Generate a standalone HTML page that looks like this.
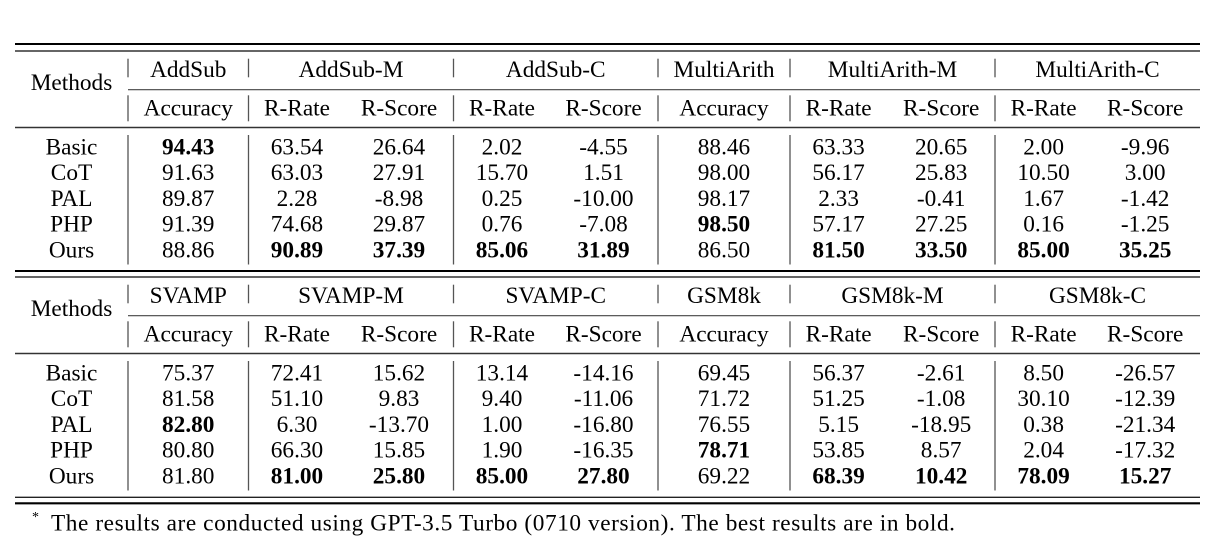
<!DOCTYPE html>
<html>
<head>
<meta charset="utf-8">
<style>
  html, body { margin:0; padding:0; background:#fff; }
  body { width:1211px; height:543px; overflow:hidden; }
  svg { display:block; }
  text { font-family: "Liberation Serif", "Times New Roman", serif; font-size:23.3px; fill:#000; }
  .b { font-weight:bold; }
</style>
</head>
<body>
<svg width="1211" height="543" viewBox="0 0 1211 543" xmlns="http://www.w3.org/2000/svg">
  <!-- ===== TOP TABLE ===== -->
  <line x1="15" y1="44" x2="1200" y2="44" stroke="#000" stroke-width="2"/>
  <line x1="15" y1="51" x2="1200" y2="51" stroke="#333" stroke-width="1.4"/>
  <line x1="128" y1="89.7" x2="1200" y2="89.7" stroke="#444" stroke-width="1.2"/>
  <line x1="15" y1="127.5" x2="1200" y2="127.5" stroke="#333" stroke-width="1.6"/>

  <g stroke="#555" stroke-width="1.3">
    <line x1="128" y1="58.7" x2="128" y2="77.3"/>
    <line x1="248.5" y1="58.7" x2="248.5" y2="77.3"/>
    <line x1="453.5" y1="58.7" x2="453.5" y2="77.3"/>
    <line x1="658" y1="58.7" x2="658" y2="77.3"/>
    <line x1="790" y1="58.7" x2="790" y2="77.3"/>
    <line x1="995" y1="58.7" x2="995" y2="77.3"/>

    <line x1="128" y1="95.3" x2="128" y2="121.3"/>
    <line x1="248.5" y1="95.3" x2="248.5" y2="121.3"/>
    <line x1="453.5" y1="95.3" x2="453.5" y2="121.3"/>
    <line x1="658" y1="95.3" x2="658" y2="121.3"/>
    <line x1="790" y1="95.3" x2="790" y2="121.3"/>
    <line x1="995" y1="95.3" x2="995" y2="121.3"/>

    <line x1="128" y1="135" x2="128" y2="264.5"/>
    <line x1="248.5" y1="135" x2="248.5" y2="264.5"/>
    <line x1="453.5" y1="135" x2="453.5" y2="264.5"/>
    <line x1="658" y1="135" x2="658" y2="264.5"/>
    <line x1="790" y1="135" x2="790" y2="264.5"/>
    <line x1="995" y1="135" x2="995" y2="264.5"/>
  </g>

  <g text-anchor="middle">
    <text x="71.5" y="90">Methods</text>
    <text x="188.25" y="77">AddSub</text>
    <text x="351" y="77">AddSub-M</text>
    <text x="555.75" y="77">AddSub-C</text>
    <text x="724" y="77">MultiArith</text>
    <text x="892.5" y="77">MultiArith-M</text>
    <text x="1097.5" y="77">MultiArith-C</text>

    <text x="188.25" y="115.5">Accuracy</text>
    <text x="297" y="115.5">R-Rate</text>
    <text x="399" y="115.5">R-Score</text>
    <text x="502" y="115.5">R-Rate</text>
    <text x="603.5" y="115.5">R-Score</text>
    <text x="724" y="115.5">Accuracy</text>
    <text x="838.6" y="115.5">R-Rate</text>
    <text x="941.2" y="115.5">R-Score</text>
    <text x="1043.6" y="115.5">R-Rate</text>
    <text x="1145.2" y="115.5">R-Score</text>

    <text x="71.5" y="154.3">Basic</text>
    <text x="188.25" y="154.3" class="b">94.43</text>
    <text x="297" y="154.3">63.54</text>
    <text x="399" y="154.3">26.64</text>
    <text x="502" y="154.3">2.02</text>
    <text x="603.5" y="154.3">-4.55</text>
    <text x="724" y="154.3">88.46</text>
    <text x="838.6" y="154.3">63.33</text>
    <text x="941.2" y="154.3">20.65</text>
    <text x="1043.6" y="154.3">2.00</text>
    <text x="1145.2" y="154.3">-9.96</text>

    <text x="71.5" y="180.1">CoT</text>
    <text x="188.25" y="180.1">91.63</text>
    <text x="297" y="180.1">63.03</text>
    <text x="399" y="180.1">27.91</text>
    <text x="502" y="180.1">15.70</text>
    <text x="603.5" y="180.1">1.51</text>
    <text x="724" y="180.1">98.00</text>
    <text x="838.6" y="180.1">56.17</text>
    <text x="941.2" y="180.1">25.83</text>
    <text x="1043.6" y="180.1">10.50</text>
    <text x="1145.2" y="180.1">3.00</text>

    <text x="71.5" y="205.9">PAL</text>
    <text x="188.25" y="205.9">89.87</text>
    <text x="297" y="205.9">2.28</text>
    <text x="399" y="205.9">-8.98</text>
    <text x="502" y="205.9">0.25</text>
    <text x="603.5" y="205.9">-10.00</text>
    <text x="724" y="205.9">98.17</text>
    <text x="838.6" y="205.9">2.33</text>
    <text x="941.2" y="205.9">-0.41</text>
    <text x="1043.6" y="205.9">1.67</text>
    <text x="1145.2" y="205.9">-1.42</text>

    <text x="71.5" y="231.7">PHP</text>
    <text x="188.25" y="231.7">91.39</text>
    <text x="297" y="231.7">74.68</text>
    <text x="399" y="231.7">29.87</text>
    <text x="502" y="231.7">0.76</text>
    <text x="603.5" y="231.7">-7.08</text>
    <text x="724" y="231.7" class="b">98.50</text>
    <text x="838.6" y="231.7">57.17</text>
    <text x="941.2" y="231.7">27.25</text>
    <text x="1043.6" y="231.7">0.16</text>
    <text x="1145.2" y="231.7">-1.25</text>

    <text x="71.5" y="257.5">Ours</text>
    <text x="188.25" y="257.5">88.86</text>
    <text x="297" y="257.5" class="b">90.89</text>
    <text x="399" y="257.5" class="b">37.39</text>
    <text x="502" y="257.5" class="b">85.06</text>
    <text x="603.5" y="257.5" class="b">31.89</text>
    <text x="724" y="257.5">86.50</text>
    <text x="838.6" y="257.5" class="b">81.50</text>
    <text x="941.2" y="257.5" class="b">33.50</text>
    <text x="1043.6" y="257.5" class="b">85.00</text>
    <text x="1145.2" y="257.5" class="b">35.25</text>
  </g>

  <!-- ===== BOTTOM TABLE ===== -->
  <line x1="15" y1="271" x2="1200" y2="271" stroke="#000" stroke-width="2"/>
  <line x1="15" y1="277" x2="1200" y2="277" stroke="#333" stroke-width="1.4"/>
  <line x1="128" y1="315.7" x2="1200" y2="315.7" stroke="#444" stroke-width="1.2"/>
  <line x1="15" y1="353.5" x2="1200" y2="353.5" stroke="#333" stroke-width="1.6"/>

  <g stroke="#555" stroke-width="1.3">
    <line x1="128" y1="284.7" x2="128" y2="303.3"/>
    <line x1="248.5" y1="284.7" x2="248.5" y2="303.3"/>
    <line x1="453.5" y1="284.7" x2="453.5" y2="303.3"/>
    <line x1="658" y1="284.7" x2="658" y2="303.3"/>
    <line x1="790" y1="284.7" x2="790" y2="303.3"/>
    <line x1="995" y1="284.7" x2="995" y2="303.3"/>

    <line x1="128" y1="321.3" x2="128" y2="347.3"/>
    <line x1="248.5" y1="321.3" x2="248.5" y2="347.3"/>
    <line x1="453.5" y1="321.3" x2="453.5" y2="347.3"/>
    <line x1="658" y1="321.3" x2="658" y2="347.3"/>
    <line x1="790" y1="321.3" x2="790" y2="347.3"/>
    <line x1="995" y1="321.3" x2="995" y2="347.3"/>

    <line x1="128" y1="361" x2="128" y2="490.5"/>
    <line x1="248.5" y1="361" x2="248.5" y2="490.5"/>
    <line x1="453.5" y1="361" x2="453.5" y2="490.5"/>
    <line x1="658" y1="361" x2="658" y2="490.5"/>
    <line x1="790" y1="361" x2="790" y2="490.5"/>
    <line x1="995" y1="361" x2="995" y2="490.5"/>
  </g>

  <g text-anchor="middle">
    <text x="71.5" y="316">Methods</text>
    <text x="188.25" y="303">SVAMP</text>
    <text x="351" y="303">SVAMP-M</text>
    <text x="555.75" y="303">SVAMP-C</text>
    <text x="724" y="303">GSM8k</text>
    <text x="892.5" y="303">GSM8k-M</text>
    <text x="1097.5" y="303">GSM8k-C</text>

    <text x="188.25" y="341.5">Accuracy</text>
    <text x="297" y="341.5">R-Rate</text>
    <text x="399" y="341.5">R-Score</text>
    <text x="502" y="341.5">R-Rate</text>
    <text x="603.5" y="341.5">R-Score</text>
    <text x="724" y="341.5">Accuracy</text>
    <text x="838.6" y="341.5">R-Rate</text>
    <text x="941.2" y="341.5">R-Score</text>
    <text x="1043.6" y="341.5">R-Rate</text>
    <text x="1145.2" y="341.5">R-Score</text>

    <text x="71.5" y="380.3">Basic</text>
    <text x="188.25" y="380.3">75.37</text>
    <text x="297" y="380.3">72.41</text>
    <text x="399" y="380.3">15.62</text>
    <text x="502" y="380.3">13.14</text>
    <text x="603.5" y="380.3">-14.16</text>
    <text x="724" y="380.3">69.45</text>
    <text x="838.6" y="380.3">56.37</text>
    <text x="941.2" y="380.3">-2.61</text>
    <text x="1043.6" y="380.3">8.50</text>
    <text x="1145.2" y="380.3">-26.57</text>

    <text x="71.5" y="406.1">CoT</text>
    <text x="188.25" y="406.1">81.58</text>
    <text x="297" y="406.1">51.10</text>
    <text x="399" y="406.1">9.83</text>
    <text x="502" y="406.1">9.40</text>
    <text x="603.5" y="406.1">-11.06</text>
    <text x="724" y="406.1">71.72</text>
    <text x="838.6" y="406.1">51.25</text>
    <text x="941.2" y="406.1">-1.08</text>
    <text x="1043.6" y="406.1">30.10</text>
    <text x="1145.2" y="406.1">-12.39</text>

    <text x="71.5" y="431.9">PAL</text>
    <text x="188.25" y="431.9" class="b">82.80</text>
    <text x="297" y="431.9">6.30</text>
    <text x="399" y="431.9">-13.70</text>
    <text x="502" y="431.9">1.00</text>
    <text x="603.5" y="431.9">-16.80</text>
    <text x="724" y="431.9">76.55</text>
    <text x="838.6" y="431.9">5.15</text>
    <text x="941.2" y="431.9">-18.95</text>
    <text x="1043.6" y="431.9">0.38</text>
    <text x="1145.2" y="431.9">-21.34</text>

    <text x="71.5" y="457.7">PHP</text>
    <text x="188.25" y="457.7">80.80</text>
    <text x="297" y="457.7">66.30</text>
    <text x="399" y="457.7">15.85</text>
    <text x="502" y="457.7">1.90</text>
    <text x="603.5" y="457.7">-16.35</text>
    <text x="724" y="457.7" class="b">78.71</text>
    <text x="838.6" y="457.7">53.85</text>
    <text x="941.2" y="457.7">8.57</text>
    <text x="1043.6" y="457.7">2.04</text>
    <text x="1145.2" y="457.7">-17.32</text>

    <text x="71.5" y="483.5">Ours</text>
    <text x="188.25" y="483.5">81.80</text>
    <text x="297" y="483.5" class="b">81.00</text>
    <text x="399" y="483.5" class="b">25.80</text>
    <text x="502" y="483.5" class="b">85.00</text>
    <text x="603.5" y="483.5" class="b">27.80</text>
    <text x="724" y="483.5">69.22</text>
    <text x="838.6" y="483.5" class="b">68.39</text>
    <text x="941.2" y="483.5" class="b">10.42</text>
    <text x="1043.6" y="483.5" class="b">78.09</text>
    <text x="1145.2" y="483.5" class="b">15.27</text>
  </g>

  <line x1="15" y1="497.3" x2="1200" y2="497.3" stroke="#222" stroke-width="1.4"/>
  <line x1="15" y1="503.3" x2="1200" y2="503.3" stroke="#000" stroke-width="2.2"/>

  <text x="32" y="521" style="font-size:14px">*</text>
  <text x="51" y="530.5" textLength="904" lengthAdjust="spacing">The results are conducted using GPT-3.5 Turbo (0710 version). The best results are in bold.</text>
</svg>
</body>
</html>
